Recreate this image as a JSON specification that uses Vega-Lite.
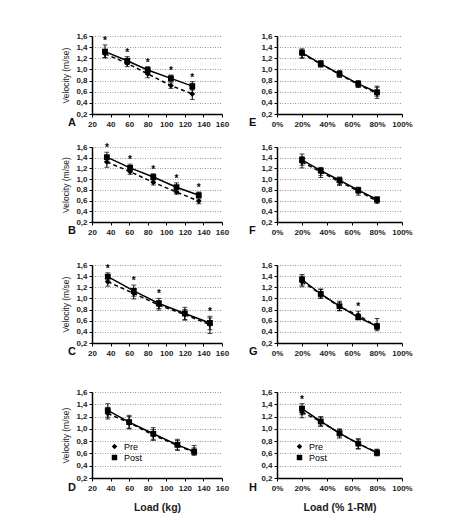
{
  "$schema": "https://vega.github.io/schema/vega-lite/v6.json",
  "background": "white",
  "padding": {"top": 32, "left": 61, "right": 0, "bottom": 0},
  "data": {
    "values": [
      {"p": "A", "g": "Post", "x": 34, "v": 1.32, "lo": 1.21, "hi": 1.44, "sig": true},
      {"p": "A", "g": "Post", "x": 58, "v": 1.155, "lo": 1.09, "hi": 1.23, "sig": true},
      {"p": "A", "g": "Post", "x": 80, "v": 0.99, "lo": 0.93, "hi": 1.05, "sig": true},
      {"p": "A", "g": "Post", "x": 105, "v": 0.84, "lo": 0.78, "hi": 0.9, "sig": true},
      {"p": "A", "g": "Post", "x": 128, "v": 0.7, "lo": 0.63, "hi": 0.78, "sig": true},
      {"p": "A", "g": "Pre", "x": 34, "v": 1.28, "lo": 1.21, "hi": 1.35},
      {"p": "A", "g": "Pre", "x": 58, "v": 1.11, "lo": 1.05, "hi": 1.17},
      {"p": "A", "g": "Pre", "x": 80, "v": 0.92, "lo": 0.85, "hi": 0.99},
      {"p": "A", "g": "Pre", "x": 105, "v": 0.71, "lo": 0.66, "hi": 0.76},
      {"p": "A", "g": "Pre", "x": 128, "v": 0.56, "lo": 0.46, "hi": 0.64},
      {"p": "B", "g": "Post", "x": 36, "v": 1.41, "lo": 1.33, "hi": 1.5, "sig": true},
      {"p": "B", "g": "Post", "x": 61, "v": 1.21, "lo": 1.15, "hi": 1.28, "sig": true},
      {"p": "B", "g": "Post", "x": 86, "v": 1.04, "lo": 0.98, "hi": 1.1, "sig": true},
      {"p": "B", "g": "Post", "x": 111, "v": 0.85, "lo": 0.77, "hi": 0.93, "sig": true},
      {"p": "B", "g": "Post", "x": 135, "v": 0.7, "lo": 0.65, "hi": 0.76, "sig": true},
      {"p": "B", "g": "Pre", "x": 36, "v": 1.32, "lo": 1.22, "hi": 1.41},
      {"p": "B", "g": "Pre", "x": 61, "v": 1.14, "lo": 1.09, "hi": 1.2},
      {"p": "B", "g": "Pre", "x": 86, "v": 0.94, "lo": 0.89, "hi": 0.99},
      {"p": "B", "g": "Pre", "x": 111, "v": 0.76, "lo": 0.72, "hi": 0.81},
      {"p": "B", "g": "Pre", "x": 135, "v": 0.59, "lo": 0.54, "hi": 0.63},
      {"p": "C", "g": "Post", "x": 37, "v": 1.39, "lo": 1.31, "hi": 1.46, "sig": true},
      {"p": "C", "g": "Post", "x": 65, "v": 1.135, "lo": 1.04, "hi": 1.24, "sig": true},
      {"p": "C", "g": "Post", "x": 92, "v": 0.91, "lo": 0.82, "hi": 1.0, "sig": true},
      {"p": "C", "g": "Post", "x": 120, "v": 0.73, "lo": 0.62, "hi": 0.84},
      {"p": "C", "g": "Post", "x": 147, "v": 0.56, "lo": 0.44, "hi": 0.68, "sig": true},
      {"p": "C", "g": "Pre", "x": 37, "v": 1.3, "lo": 1.22, "hi": 1.37},
      {"p": "C", "g": "Pre", "x": 65, "v": 1.09, "lo": 0.99, "hi": 1.18},
      {"p": "C", "g": "Pre", "x": 92, "v": 0.88, "lo": 0.79, "hi": 0.96},
      {"p": "C", "g": "Pre", "x": 120, "v": 0.71, "lo": 0.61, "hi": 0.8},
      {"p": "C", "g": "Pre", "x": 147, "v": 0.53, "lo": 0.37, "hi": 0.65},
      {"p": "D", "g": "Post", "x": 37, "v": 1.3, "lo": 1.19, "hi": 1.41},
      {"p": "D", "g": "Post", "x": 60, "v": 1.11, "lo": 1.01, "hi": 1.22},
      {"p": "D", "g": "Post", "x": 86, "v": 0.92, "lo": 0.83, "hi": 1.02},
      {"p": "D", "g": "Post", "x": 112, "v": 0.74, "lo": 0.66, "hi": 0.83},
      {"p": "D", "g": "Post", "x": 130, "v": 0.63, "lo": 0.58, "hi": 0.73},
      {"p": "D", "g": "Pre", "x": 37, "v": 1.25, "lo": 1.16, "hi": 1.35},
      {"p": "D", "g": "Pre", "x": 60, "v": 1.1, "lo": 1.0, "hi": 1.2},
      {"p": "D", "g": "Pre", "x": 86, "v": 0.9, "lo": 0.81, "hi": 0.99},
      {"p": "D", "g": "Pre", "x": 112, "v": 0.73, "lo": 0.65, "hi": 0.81},
      {"p": "D", "g": "Pre", "x": 130, "v": 0.62, "lo": 0.57, "hi": 0.69},
      {"p": "E", "g": "Post", "x": 0.2, "v": 1.3, "lo": 1.21, "hi": 1.37},
      {"p": "E", "g": "Post", "x": 0.35, "v": 1.1, "lo": 1.04, "hi": 1.16},
      {"p": "E", "g": "Post", "x": 0.5, "v": 0.92, "lo": 0.86, "hi": 0.98},
      {"p": "E", "g": "Post", "x": 0.65, "v": 0.74, "lo": 0.68, "hi": 0.8},
      {"p": "E", "g": "Post", "x": 0.8, "v": 0.59, "lo": 0.52, "hi": 0.68},
      {"p": "E", "g": "Pre", "x": 0.2, "v": 1.28, "lo": 1.2, "hi": 1.35},
      {"p": "E", "g": "Pre", "x": 0.35, "v": 1.1, "lo": 1.05, "hi": 1.15},
      {"p": "E", "g": "Pre", "x": 0.5, "v": 0.91, "lo": 0.86, "hi": 0.96},
      {"p": "E", "g": "Pre", "x": 0.65, "v": 0.73, "lo": 0.68, "hi": 0.79},
      {"p": "E", "g": "Pre", "x": 0.8, "v": 0.57, "lo": 0.48, "hi": 0.7},
      {"p": "F", "g": "Post", "x": 0.2, "v": 1.36, "lo": 1.26, "hi": 1.47},
      {"p": "F", "g": "Post", "x": 0.35, "v": 1.16, "lo": 1.07, "hi": 1.22},
      {"p": "F", "g": "Post", "x": 0.5, "v": 0.98, "lo": 0.9, "hi": 1.04},
      {"p": "F", "g": "Post", "x": 0.65, "v": 0.795, "lo": 0.73, "hi": 0.85},
      {"p": "F", "g": "Post", "x": 0.8, "v": 0.62, "lo": 0.57, "hi": 0.67},
      {"p": "F", "g": "Pre", "x": 0.2, "v": 1.32, "lo": 1.21, "hi": 1.42},
      {"p": "F", "g": "Pre", "x": 0.35, "v": 1.135, "lo": 1.03, "hi": 1.2},
      {"p": "F", "g": "Pre", "x": 0.5, "v": 0.95, "lo": 0.88, "hi": 1.02},
      {"p": "F", "g": "Pre", "x": 0.65, "v": 0.78, "lo": 0.7, "hi": 0.83},
      {"p": "F", "g": "Pre", "x": 0.8, "v": 0.59, "lo": 0.55, "hi": 0.65},
      {"p": "G", "g": "Post", "x": 0.2, "v": 1.34, "lo": 1.24, "hi": 1.43},
      {"p": "G", "g": "Post", "x": 0.35, "v": 1.08, "lo": 1.0, "hi": 1.17},
      {"p": "G", "g": "Post", "x": 0.5, "v": 0.86, "lo": 0.78, "hi": 0.95},
      {"p": "G", "g": "Post", "x": 0.65, "v": 0.66, "lo": 0.63, "hi": 0.72},
      {"p": "G", "g": "Post", "x": 0.8, "v": 0.5, "lo": 0.44, "hi": 0.64},
      {"p": "G", "g": "Pre", "x": 0.2, "v": 1.3, "lo": 1.21, "hi": 1.4},
      {"p": "G", "g": "Pre", "x": 0.35, "v": 1.08, "lo": 1.01, "hi": 1.16},
      {"p": "G", "g": "Pre", "x": 0.5, "v": 0.85, "lo": 0.78, "hi": 0.93},
      {"p": "G", "g": "Pre", "x": 0.65, "v": 0.7, "lo": 0.64, "hi": 0.77, "sig": true},
      {"p": "G", "g": "Pre", "x": 0.8, "v": 0.49, "lo": 0.42, "hi": 0.55},
      {"p": "H", "g": "Post", "x": 0.2, "v": 1.33, "lo": 1.23, "hi": 1.41, "sig": true},
      {"p": "H", "g": "Post", "x": 0.35, "v": 1.12, "lo": 1.04, "hi": 1.2},
      {"p": "H", "g": "Post", "x": 0.5, "v": 0.93, "lo": 0.85, "hi": 1.0},
      {"p": "H", "g": "Post", "x": 0.65, "v": 0.76, "lo": 0.67, "hi": 0.83},
      {"p": "H", "g": "Post", "x": 0.8, "v": 0.61, "lo": 0.56, "hi": 0.67},
      {"p": "H", "g": "Pre", "x": 0.2, "v": 1.27, "lo": 1.18, "hi": 1.36},
      {"p": "H", "g": "Pre", "x": 0.35, "v": 1.12, "lo": 1.05, "hi": 1.19},
      {"p": "H", "g": "Pre", "x": 0.5, "v": 0.93, "lo": 0.87, "hi": 0.99},
      {"p": "H", "g": "Pre", "x": 0.65, "v": 0.76, "lo": 0.68, "hi": 0.84},
      {"p": "H", "g": "Pre", "x": 0.8, "v": 0.62, "lo": 0.57, "hi": 0.66}
    ]
  },
  "spacing": 15,
  "resolve": {"scale": {"x": "independent", "y": "independent", "shape": "independent"}, "legend": {"shape": "independent"}},
  "vconcat": [
    {
      "spacing": 19,
      "resolve": {"scale": {"x": "independent", "y": "independent", "shape": "independent"}, "legend": {"shape": "independent"}},
      "hconcat": [
        {
          "width": 130, "height": 78, "title": "A",
          "transform": [{"filter": "datum.p == 'A'"}],
          "encoding": {
            "x": {"field": "x", "type": "quantitative", "scale": {"domain": [20, 160]}, "axis": {"values": [20, 40, 60, 80, 100, 120, 140, 160]}, "title": null},
            "y": {"field": "v", "type": "quantitative", "scale": {"domain": [0.2, 1.6]}, "axis": {"values": [0.2, 0.4, 0.6, 0.8, 1.0, 1.2, 1.4, 1.6]}, "title": "Velocity (m/se)"}
          },
          "layer": [
            {"mark": {"type": "errorbar", "ticks": true, "color": "black"}, "encoding": {"y": {"field": "lo", "type": "quantitative", "scale": {"domain": [0.2, 1.6]}, "axis": {"values": [0.2, 0.4, 0.6, 0.8, 1.0, 1.2, 1.4, 1.6]}, "title": "Velocity (m/se)"}, "y2": {"field": "hi"}}},
            {"transform": [{"filter": "datum.g == 'Pre'"}], "mark": {"type": "line", "strokeDash": [4, 3]}},
            {"transform": [{"filter": "datum.g == 'Post'"}], "mark": "line"},
            {"mark": "point", "encoding": {"shape": {"field": "g", "type": "nominal", "scale": {"domain": ["Pre", "Post"], "range": ["diamond", "square"]}, "legend": null}}},
            {"transform": [{"filter": "datum.sig"}], "mark": {"type": "text", "text": "*"}, "encoding": {"y": {"field": "hi", "type": "quantitative", "scale": {"domain": [0.2, 1.6]}, "axis": {"values": [0.2, 0.4, 0.6, 0.8, 1.0, 1.2, 1.4, 1.6]}, "title": "Velocity (m/se)"}}}
          ]
        },
        {
          "width": 125, "height": 78, "title": {"text": "E", "dx": -12},
          "transform": [{"filter": "datum.p == 'E'"}],
          "encoding": {
            "x": {"field": "x", "type": "quantitative", "scale": {"domain": [0, 1]}, "axis": {"values": [0, 0.2, 0.4, 0.6, 0.8, 1], "format": ".0%"}, "title": null},
            "y": {"field": "v", "type": "quantitative", "scale": {"domain": [0.2, 1.6]}, "axis": {"values": [0.2, 0.4, 0.6, 0.8, 1.0, 1.2, 1.4, 1.6]}, "title": null}
          },
          "layer": [
            {"mark": {"type": "errorbar", "ticks": true, "color": "black"}, "encoding": {"y": {"field": "lo", "type": "quantitative", "scale": {"domain": [0.2, 1.6]}, "axis": {"values": [0.2, 0.4, 0.6, 0.8, 1.0, 1.2, 1.4, 1.6]}, "title": null}, "y2": {"field": "hi"}}},
            {"transform": [{"filter": "datum.g == 'Pre'"}], "mark": {"type": "line", "strokeDash": [4, 3]}},
            {"transform": [{"filter": "datum.g == 'Post'"}], "mark": "line"},
            {"mark": "point", "encoding": {"shape": {"field": "g", "type": "nominal", "scale": {"domain": ["Pre", "Post"], "range": ["diamond", "square"]}, "legend": null}}}
          ]
        }
      ]
    },
    {
      "spacing": 25,
      "resolve": {"scale": {"x": "independent", "y": "independent", "shape": "independent"}, "legend": {"shape": "independent"}},
      "vconcat": [
        {
          "spacing": 19,
          "resolve": {"scale": {"x": "independent", "y": "independent", "shape": "independent"}, "legend": {"shape": "independent"}},
          "hconcat": [
            {
              "width": 130, "height": 75, "title": "B",
              "transform": [{"filter": "datum.p == 'B'"}],
              "encoding": {
                "x": {"field": "x", "type": "quantitative", "scale": {"domain": [20, 160]}, "axis": {"values": [20, 40, 60, 80, 100, 120, 140, 160]}, "title": null},
                "y": {"field": "v", "type": "quantitative", "scale": {"domain": [0.2, 1.6]}, "axis": {"values": [0.2, 0.4, 0.6, 0.8, 1.0, 1.2, 1.4, 1.6]}, "title": "Velocity (m/se)"}
              },
              "layer": [
                {"mark": {"type": "errorbar", "ticks": true, "color": "black"}, "encoding": {"y": {"field": "lo", "type": "quantitative", "scale": {"domain": [0.2, 1.6]}, "axis": {"values": [0.2, 0.4, 0.6, 0.8, 1.0, 1.2, 1.4, 1.6]}, "title": "Velocity (m/se)"}, "y2": {"field": "hi"}}},
                {"transform": [{"filter": "datum.g == 'Pre'"}], "mark": {"type": "line", "strokeDash": [4, 3]}},
                {"transform": [{"filter": "datum.g == 'Post'"}], "mark": "line"},
                {"mark": "point", "encoding": {"shape": {"field": "g", "type": "nominal", "scale": {"domain": ["Pre", "Post"], "range": ["diamond", "square"]}, "legend": null}}},
                {"transform": [{"filter": "datum.sig"}], "mark": {"type": "text", "text": "*"}, "encoding": {"y": {"field": "hi", "type": "quantitative", "scale": {"domain": [0.2, 1.6]}, "axis": {"values": [0.2, 0.4, 0.6, 0.8, 1.0, 1.2, 1.4, 1.6]}, "title": "Velocity (m/se)"}}}
              ]
            },
            {
              "width": 125, "height": 75, "title": {"text": "F", "dx": -12},
              "transform": [{"filter": "datum.p == 'F'"}],
              "encoding": {
                "x": {"field": "x", "type": "quantitative", "scale": {"domain": [0, 1]}, "axis": {"values": [0, 0.2, 0.4, 0.6, 0.8, 1], "format": ".0%"}, "title": null},
                "y": {"field": "v", "type": "quantitative", "scale": {"domain": [0.2, 1.6]}, "axis": {"values": [0.2, 0.4, 0.6, 0.8, 1.0, 1.2, 1.4, 1.6]}, "title": null}
              },
              "layer": [
                {"mark": {"type": "errorbar", "ticks": true, "color": "black"}, "encoding": {"y": {"field": "lo", "type": "quantitative", "scale": {"domain": [0.2, 1.6]}, "axis": {"values": [0.2, 0.4, 0.6, 0.8, 1.0, 1.2, 1.4, 1.6]}, "title": null}, "y2": {"field": "hi"}}},
                {"transform": [{"filter": "datum.g == 'Pre'"}], "mark": {"type": "line", "strokeDash": [4, 3]}},
                {"transform": [{"filter": "datum.g == 'Post'"}], "mark": "line"},
                {"mark": "point", "encoding": {"shape": {"field": "g", "type": "nominal", "scale": {"domain": ["Pre", "Post"], "range": ["diamond", "square"]}, "legend": null}}}
              ]
            }
          ]
        },
        {
          "spacing": 31,
          "resolve": {"scale": {"x": "independent", "y": "independent", "shape": "independent"}, "legend": {"shape": "independent"}},
          "vconcat": [
            {
              "spacing": 19,
              "resolve": {"scale": {"x": "independent", "y": "independent", "shape": "independent"}, "legend": {"shape": "independent"}},
              "hconcat": [
                {
                  "width": 130, "height": 78, "title": "C",
                  "transform": [{"filter": "datum.p == 'C'"}],
                  "encoding": {
                    "x": {"field": "x", "type": "quantitative", "scale": {"domain": [20, 160]}, "axis": {"values": [20, 40, 60, 80, 100, 120, 140, 160]}, "title": null},
                    "y": {"field": "v", "type": "quantitative", "scale": {"domain": [0.2, 1.6]}, "axis": {"values": [0.2, 0.4, 0.6, 0.8, 1.0, 1.2, 1.4, 1.6]}, "title": "Velocity (m/se)"}
                  },
                  "layer": [
                    {"mark": {"type": "errorbar", "ticks": true, "color": "black"}, "encoding": {"y": {"field": "lo", "type": "quantitative", "scale": {"domain": [0.2, 1.6]}, "axis": {"values": [0.2, 0.4, 0.6, 0.8, 1.0, 1.2, 1.4, 1.6]}, "title": "Velocity (m/se)"}, "y2": {"field": "hi"}}},
                    {"transform": [{"filter": "datum.g == 'Pre'"}], "mark": {"type": "line", "strokeDash": [4, 3]}},
                    {"transform": [{"filter": "datum.g == 'Post'"}], "mark": "line"},
                    {"mark": "point", "encoding": {"shape": {"field": "g", "type": "nominal", "scale": {"domain": ["Pre", "Post"], "range": ["diamond", "square"]}, "legend": null}}},
                    {"transform": [{"filter": "datum.sig"}], "mark": {"type": "text", "text": "*"}, "encoding": {"y": {"field": "hi", "type": "quantitative", "scale": {"domain": [0.2, 1.6]}, "axis": {"values": [0.2, 0.4, 0.6, 0.8, 1.0, 1.2, 1.4, 1.6]}, "title": "Velocity (m/se)"}}}
                  ]
                },
                {
                  "width": 125, "height": 78, "title": {"text": "G", "dx": -12},
                  "transform": [{"filter": "datum.p == 'G'"}],
                  "encoding": {
                    "x": {"field": "x", "type": "quantitative", "scale": {"domain": [0, 1]}, "axis": {"values": [0, 0.2, 0.4, 0.6, 0.8, 1], "format": ".0%"}, "title": null},
                    "y": {"field": "v", "type": "quantitative", "scale": {"domain": [0.2, 1.6]}, "axis": {"values": [0.2, 0.4, 0.6, 0.8, 1.0, 1.2, 1.4, 1.6]}, "title": null}
                  },
                  "layer": [
                    {"mark": {"type": "errorbar", "ticks": true, "color": "black"}, "encoding": {"y": {"field": "lo", "type": "quantitative", "scale": {"domain": [0.2, 1.6]}, "axis": {"values": [0.2, 0.4, 0.6, 0.8, 1.0, 1.2, 1.4, 1.6]}, "title": null}, "y2": {"field": "hi"}}},
                    {"transform": [{"filter": "datum.g == 'Pre'"}], "mark": {"type": "line", "strokeDash": [4, 3]}},
                    {"transform": [{"filter": "datum.g == 'Post'"}], "mark": "line"},
                    {"mark": "point", "encoding": {"shape": {"field": "g", "type": "nominal", "scale": {"domain": ["Pre", "Post"], "range": ["diamond", "square"]}, "legend": null}}},
                    {"transform": [{"filter": "datum.sig"}], "mark": {"type": "text", "text": "*"}, "encoding": {"y": {"field": "hi", "type": "quantitative", "scale": {"domain": [0.2, 1.6]}, "axis": {"values": [0.2, 0.4, 0.6, 0.8, 1.0, 1.2, 1.4, 1.6]}, "title": null}}}
                  ]
                }
              ]
            },
            {
              "spacing": 19,
              "resolve": {"scale": {"x": "independent", "y": "independent", "shape": "independent"}, "legend": {"shape": "independent"}},
              "hconcat": [
                {
                  "width": 130, "height": 86, "title": {"text": "D", "offset": -31},
                  "transform": [{"filter": "datum.p == 'D'"}],
                  "encoding": {
                    "x": {"field": "x", "type": "quantitative", "scale": {"domain": [20, 160]}, "axis": {"values": [20, 40, 60, 80, 100, 120, 140, 160]}, "title": "Load (kg)"},
                    "y": {"field": "v", "type": "quantitative", "scale": {"domain": [0.2, 1.6]}, "axis": {"values": [0.2, 0.4, 0.6, 0.8, 1.0, 1.2, 1.4, 1.6]}, "title": "Velocity (m/se)"}
                  },
                  "layer": [
                    {"mark": {"type": "errorbar", "ticks": true, "color": "black"}, "encoding": {"y": {"field": "lo", "type": "quantitative", "scale": {"domain": [0.2, 1.6]}, "axis": {"values": [0.2, 0.4, 0.6, 0.8, 1.0, 1.2, 1.4, 1.6]}, "title": "Velocity (m/se)"}, "y2": {"field": "hi"}}},
                    {"transform": [{"filter": "datum.g == 'Pre'"}], "mark": {"type": "line", "strokeDash": [4, 3]}},
                    {"transform": [{"filter": "datum.g == 'Post'"}], "mark": "line"},
                    {"mark": "point", "encoding": {"shape": {"field": "g", "type": "nominal", "scale": {"domain": ["Pre", "Post"], "range": ["diamond", "square"]}, "legend": {"orient": "bottom-left", "title": null, "offset": 14, "symbolOffset": 4}}}}
                  ]
                },
                {
                  "width": 125, "height": 86, "title": {"text": "H", "offset": -31, "dx": -12},
                  "transform": [{"filter": "datum.p == 'H'"}],
                  "encoding": {
                    "x": {"field": "x", "type": "quantitative", "scale": {"domain": [0, 1]}, "axis": {"values": [0, 0.2, 0.4, 0.6, 0.8, 1], "format": ".0%"}, "title": "Load (% 1-RM)"},
                    "y": {"field": "v", "type": "quantitative", "scale": {"domain": [0.2, 1.6]}, "axis": {"values": [0.2, 0.4, 0.6, 0.8, 1.0, 1.2, 1.4, 1.6]}, "title": null}
                  },
                  "layer": [
                    {"mark": {"type": "errorbar", "ticks": true, "color": "black"}, "encoding": {"y": {"field": "lo", "type": "quantitative", "scale": {"domain": [0.2, 1.6]}, "axis": {"values": [0.2, 0.4, 0.6, 0.8, 1.0, 1.2, 1.4, 1.6]}, "title": null}, "y2": {"field": "hi"}}},
                    {"transform": [{"filter": "datum.g == 'Pre'"}], "mark": {"type": "line", "strokeDash": [4, 3]}},
                    {"transform": [{"filter": "datum.g == 'Post'"}], "mark": "line"},
                    {"mark": "point", "encoding": {"shape": {"field": "g", "type": "nominal", "scale": {"domain": ["Pre", "Post"], "range": ["diamond", "square"]}, "legend": {"orient": "bottom-left", "title": null, "offset": 14, "symbolOffset": 4}}}},
                    {"transform": [{"filter": "datum.sig"}], "mark": {"type": "text", "text": "*"}, "encoding": {"y": {"field": "hi", "type": "quantitative", "scale": {"domain": [0.2, 1.6]}, "axis": {"values": [0.2, 0.4, 0.6, 0.8, 1.0, 1.2, 1.4, 1.6]}, "title": null}}}
                  ]
                }
              ]
            }
          ]
        }
      ]
    }
  ],
  "config": {
    "view": {"stroke": null},
    "font": "Liberation Sans",
    "title": {"orient": "bottom", "anchor": "start", "frame": "bounds", "fontSize": 11, "fontWeight": "bold", "color": "#111", "offset": -11, "dx": 6},
    "axis": {
      "labelFont": "Liberation Sans", "labelFontSize": 8, "labelFontWeight": "bold", "labelColor": "#222", "labelOverlap": false, "labelFlush": false,
      "domainColor": "black", "domainWidth": 1.5, "tickColor": "black", "tickSize": 3,
      "titleFont": "Liberation Sans", "titleFontWeight": "normal", "titleFontSize": 8.5, "titleColor": "#222"
    },
    "axisY": {
      "labelExpr": "replace(format(datum.value, '.1f'), '.', ',')",
      "grid": true, "gridColor": "#999", "gridDash": [1, 1.5], "labelPadding": 2, "titlePadding": 5
    },
    "axisX": {"grid": false, "labelPadding": 3, "titleFontSize": 10.5, "titleFontWeight": "bold", "titlePadding": 10},
    "line": {"color": "black", "strokeWidth": 1.5},
    "point": {"color": "black", "filled": true, "size": 34, "opacity": 1},
    "text": {"color": "black", "fontSize": 10, "fontWeight": "bold", "baseline": "middle", "dy": -4},
    "legend": {"labelFontSize": 9, "labelFont": "Liberation Sans", "symbolSize": 30, "symbolFillColor": "black", "symbolStrokeColor": "black", "rowPadding": -2, "labelOffset": 5}
  }
}
